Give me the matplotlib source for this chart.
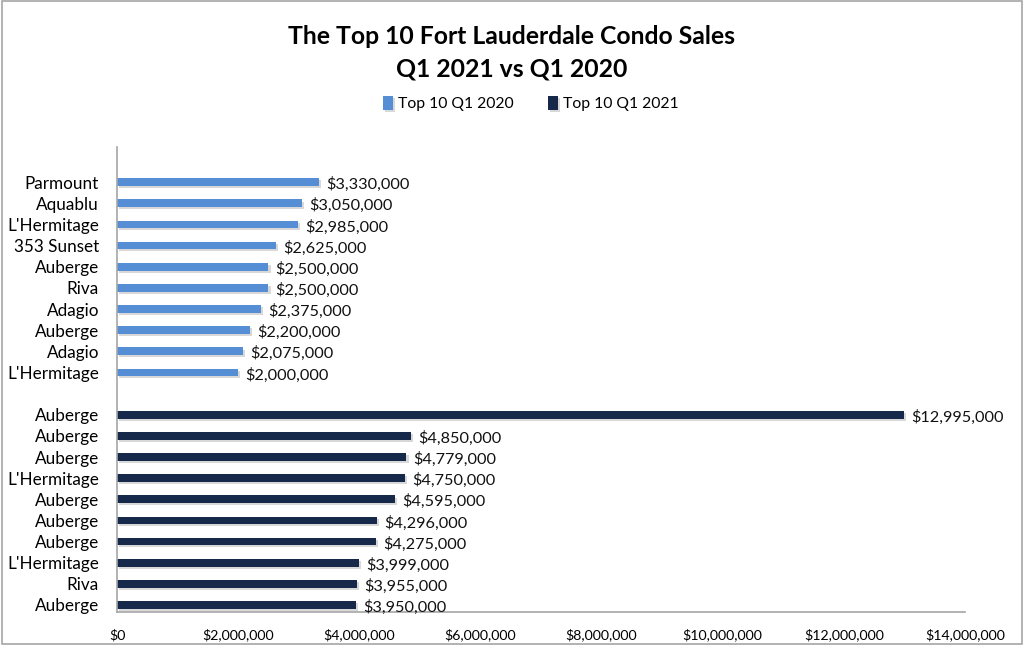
import numpy as np
import matplotlib
matplotlib.use("Agg")
import matplotlib.pyplot as plt
import matplotlib.patheffects as pe
from matplotlib.patches import Rectangle

plt.rcParams['font.family'] = ['Lato', 'DejaVu Sans']

# data (top to bottom as shown)
names_2020 = ["Parmount", "Aquablu", "L'Hermitage", "353 Sunset", "Auberge",
              "Riva", "Adagio", "Auberge", "Adagio", "L'Hermitage"]
sales_2020 = [3330000, 3050000, 2985000, 2625000, 2500000,
              2500000, 2375000, 2200000, 2075000, 2000000]
names_2021 = ["Auberge", "Auberge", "Auberge", "L'Hermitage", "Auberge",
              "Auberge", "Auberge", "L'Hermitage", "Riva", "Auberge"]
sales_2021 = [12995000, 4850000, 4779000, 4750000, 4595000,
              4296000, 4275000, 3999000, 3955000, 3950000]
x_ticks = [0, 2000000, 4000000, 6000000, 8000000, 10000000, 12000000, 14000000]

c2020 = "#558ed5"
c2021 = "#17294a"

fig = plt.figure(figsize=(10.24, 6.45), dpi=100)
fig.patches.append(Rectangle((0.002, 0.002), 0.996, 0.996, transform=fig.transFigure,
                             fill=False, edgecolor="#a6a6a6", linewidth=1.2))
ax = fig.add_axes([0.1143, 0.0512, 0.828, 0.7208])

n = len(names_2021)
y2021 = np.arange(n)[::-1]           # 9..0
y2020 = np.arange(n)[::-1] + n + 1   # 20..11

shadow = [pe.SimplePatchShadow(offset=(1.5, -1.5), shadow_rgbFace="#aaaaaa", alpha=0.45), pe.Normal()]
h = 0.36
b1 = ax.barh(y2020, sales_2020, height=h, color=c2020, label="Top 10 Q1 2020")
b2 = ax.barh(y2021, sales_2021, height=h, color=c2021, label="Top 10 Q1 2021")
for b in list(b1) + list(b2):
    b.set_path_effects(shadow)

for y, v in list(zip(y2020, sales_2020)) + list(zip(y2021, sales_2021)):
    ax.text(v + 120000, y - 0.12, "${:,.0f}".format(v), va="center", ha="left",
            fontsize=11.7, color="#111111")

ax.set_yticks(list(y2020) + list(y2021))
ax.set_yticklabels(names_2020 + names_2021, fontsize=12.3)
ax.set_ylim(-0.33, 21.66)
ax.set_xlim(0, 14000000)
ax.set_xticks(x_ticks)
ax.set_xticklabels(["${:,.0f}".format(t) for t in x_ticks], fontsize=10.2)
ax.tick_params(axis="both", length=0)
ax.tick_params(axis="x", pad=12)
ax.tick_params(axis="y", pad=13)

for s in ["top", "right"]:
    ax.spines[s].set_visible(False)
for s in ["left", "bottom"]:
    ax.spines[s].set_color("#a6a6a6")
    ax.spines[s].set_linewidth(1.2)

fig.text(0.5, 0.944, "The Top 10 Fort Lauderdale Condo Sales", ha="center", va="center",
         fontsize=17.8, fontweight="bold")
fig.text(0.5, 0.893, "Q1 2021 vs Q1 2020", ha="center", va="center",
         fontsize=17.8, fontweight="bold")
fig.legend(handles=[b1, b2], loc="center", bbox_to_anchor=(0.518, 0.840), ncol=2,
           frameon=False, fontsize=11.3, handlelength=0.65, handleheight=1.0,
           handletextpad=0.3, columnspacing=2.2)

plt.savefig("out.png", dpi=100)
